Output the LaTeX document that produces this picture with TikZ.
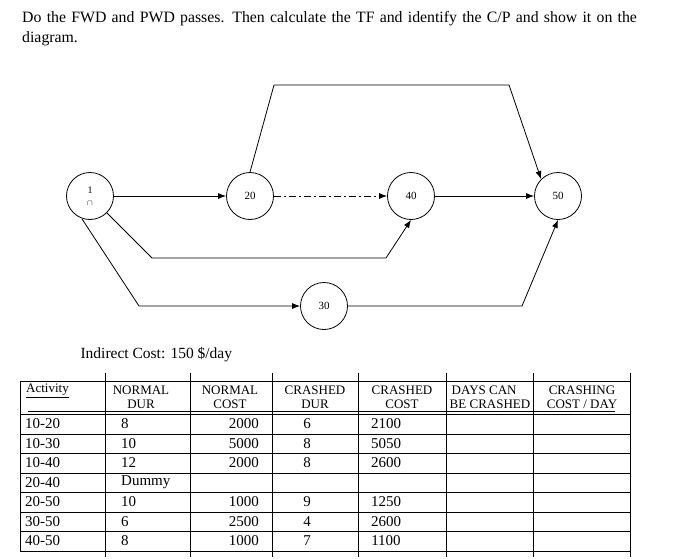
\documentclass[tikz,border=0pt]{standalone}
\usepackage{fontspec}
\setmainfont{Liberation Serif}
\usetikzlibrary{arrows.meta}
\begin{document}
\begin{tikzpicture}[x=1pt,y=-1pt,
  ev/.style={circle,draw,line width=0.8pt,minimum size=47pt,inner sep=0pt,font=\fontsize{11}{11}\selectfont},
  arr/.style={line width=0.8pt,-{Latex[length=8pt,width=6pt]}},
  cell/.style={font=\fontsize{15}{15}\selectfont,inner sep=0pt},
  hd/.style={font=\fontsize{13}{13.5}\selectfont,inner sep=0pt,align=center},
  tl/.style={line width=0.7pt}]
\useasboundingbox (0,0) rectangle (700,558);
\node[anchor=north west,font=\fontsize{15.8}{20}\selectfont,align=left,text width=670pt,inner sep=0pt] (t) at (22,11) {Do the FWD and PWD passes. Then calculate the TF and identify the C/P and show it on the\\diagram.};
\node[ev] (n1) at (90,196) {};
\node[font=\fontsize{10}{10}\selectfont] (n1a) at (90,190) {1};
\node[font=\fontsize{8}{8}\selectfont] (n1b) at (90,203) {$\cap$};
\node[ev] (n20) at (250,196) {20};
\node[ev] (n40) at (411,196) {40};
\node[ev] (n50) at (558,196) {50};
\node[ev] (n30) at (324,306) {30};
\coordinate (a) at (274,85); \coordinate (b) at (509,85);
\coordinate (c) at (152,258); \coordinate (d) at (386,258);
\coordinate (e) at (139,306); \coordinate (f) at (522,306);
\draw[arr] (n1) -- (n20);
\draw[arr] (n40) -- (n50);
\draw[arr,dash pattern=on 7pt off 3pt on 2pt off 3pt] (n20) -- (n40);
\draw[arr] (n20.north) -- (a) -- (b) -- (n50.north west);
\draw[arr] (n1.south east) -- (c) -- (d) -- (n40.south);
\draw[arr] (n1.south) ++(-8,-1) -- (e) -- (n30);
\draw[arr] (n30) -- (f) -- (n50.south);
\node[anchor=west,font=\fontsize{15.5}{17}\selectfont] (ic) at (77,355) {Indirect Cost: 150 \$/day};
% table
\draw[tl] (20,381) rectangle (630,551);
\foreach \x in {105,190,272,358,446,533} \draw[tl] (\x,373) -- (\x,557);
\draw[tl] (630,373) -- (630,557);
\foreach \y in {414,434,453,473,492,512,531} \draw[tl] (20,\y) -- (630,\y);
\draw[tl] (28,411) -- (615,411);
\node[hd,anchor=north west] (h1) at (26,384) {\underline{Activity}};
\node[hd] (h2) at (141,397) {NORMAL\\DUR};
\node[hd] (h3) at (230,397) {NORMAL\\COST};
\node[hd] (h4) at (315,397) {CRASHED\\DUR};
\node[hd] (h5) at (402,397) {CRASHED\\COST};
\node[hd,align=left] (h6) at (490,397) {\hspace*{2pt}DAYS CAN\\BE CRASHED};
\node[hd] (h7) at (582,397) {CRASHING\\COST / DAY};
\foreach \r/\act/\nd/\nc/\cd/\cc [count=\i] in {1/10-20/8/2000/6/2100,2/10-30/10/5000/8/5050,3/10-40/12/2000/8/2600,4/20-40/Dummy/ / / ,5/20-50/10/1000/9/1250,6/30-50/6/2500/4/2600,7/40-50/8/1000/7/1100}{
  \pgfmathsetmacro{\yy}{414+19.5*(\r-1)+10}
  \node[cell,anchor=west] (ra\i) at (25,\yy) {\act};
  \node[cell,anchor=west] (rb\i) at (121,\yy) {\nd};
  \node[cell,anchor=east] (rc\i) at (259,\yy) {\nc};
  \node[cell] (rd\i) at (307,\yy) {\cd};
  \node[cell] (re\i) at (386,\yy) {\cc};
}
\end{tikzpicture}
\end{document}
